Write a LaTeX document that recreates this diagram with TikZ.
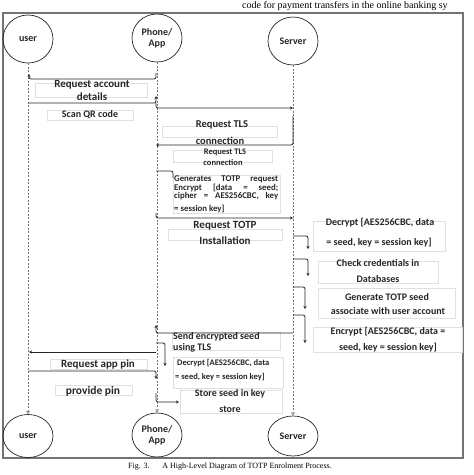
\documentclass[tikz,border=0pt]{standalone}
\usepackage{fontspec}
\setmainfont{Carlito}
\newfontfamily\seriffont{Liberation Serif}
\usetikzlibrary{arrows.meta,shapes.geometric}
\begin{document}
\begin{tikzpicture}[x=1pt,y=-1pt,
  actor/.style={draw=black!85,line width=0.7pt,ellipse,minimum width=50pt,minimum height=48pt,inner sep=0pt,align=center,font=\bfseries\fontsize{10}{11}\selectfont,text=black!85},
  life/.style={draw=black!55,line width=0.5pt,dash pattern=on 2pt off 1.5pt,-{Triangle[open,length=3pt,width=3.5pt]}},
  msg/.style={draw=black!85,line width=0.8pt,rounded corners=2pt,-{Stealth[length=3pt,width=3pt]}},
  plain/.style={draw=black!85,line width=0.8pt,rounded corners=2pt},
  lbox/.style={draw=black!12,line width=0.8pt,fill=white},
  big/.style={font=\bfseries\fontsize{10}{11}\selectfont,text=black!85,inner sep=0pt},
  large/.style={font=\bfseries\fontsize{11}{12}\selectfont,text=black!85,inner sep=0pt},
  tls/.style={font=\bfseries\fontsize{10.5}{12}\selectfont,text=black!85,inner sep=0pt},
  small/.style={font=\bfseries\fontsize{8.5}{10}\selectfont,text=black!85,inner sep=0pt},
  gen/.style={font=\bfseries\fontsize{8.8}{10}\selectfont,text=black!85,inner sep=0pt,anchor=west},
  mid/.style={font=\bfseries\fontsize{8.5}{9}\selectfont,text=black!85,inner sep=0pt}
]
\useasboundingbox (0,0) rectangle (474,475);
% header text at the page edge
\node[anchor=base west,inner sep=0pt,font=\seriffont\fontsize{10}{12}\selectfont] (hdr) at (242,8.5) {code for payment transfers in the online banking sy};
% frame
\draw[draw=black!55,line width=1.6pt] (3,13) rectangle (463,458);
% caption
\node[inner sep=0pt,font=\seriffont\fontsize{8}{10}\selectfont] (cap) at (230,467) {Fig. 3.\hspace{1.6em}A High-Level Diagram of TOTP Enrolment Process.};

% actors
\node[actor] (userT) at (28,39) {user};
\node[actor] (phoneT) at (157,38) {Phone/\\App};
\node[actor] (serverT) at (293,41) {Server};
\node[actor,minimum height=43pt] (userB) at (28,436) {user};
\node[actor,minimum height=44pt] (phoneB) at (157,435) {Phone/\\App};
\node[actor,minimum height=40pt] (serverB) at (293,436) {Server};
\draw[life] (userT.south) -- (userB.north);
\draw[life] (phoneT.south) -- (phoneB.north);
\draw[life] (serverT.south) -- (serverB.north);

% label boxes
\draw[lbox] (35,83) rectangle (147,97);
\draw[lbox] (47,110) rectangle (133,120);
\draw[lbox] (162,126) rectangle (277,137);
\draw[lbox] (173,150) rectangle (272,162);
\draw[lbox] (173,175) rectangle (280,213);
\draw[lbox] (168,229) rectangle (282,240);
\draw[lbox] (313,221) rectangle (445,251);
\draw[lbox] (318,261) rectangle (438,283);
\draw[lbox] (318,288) rectangle (455,318);
\draw[lbox] (313,327) rectangle (462,352);
\draw[lbox] (172,332) rectangle (280,350);
\draw[lbox] (173,357) rectangle (283,388);
\draw[lbox] (50,359) rectangle (147,369);
\draw[lbox] (55,385) rectangle (132,395);
\draw[lbox] (180,390) rectangle (282,413);

% lifeline coordinates
\coordinate (u1) at (29,74); \coordinate (u1b) at (29,79); \coordinate (p1) at (156,73);
\coordinate (u2) at (29,103); \coordinate (p2) at (156,103); \coordinate (p2t) at (156,96);
\coordinate (s2) at (293,108);
\coordinate (s3) at (293,116); \coordinate (s3b) at (293,145); \coordinate (p3) at (156,145);
\coordinate (p4) at (156,171); \coordinate (p4b) at (173,171); \coordinate (p4c) at (173,178);
\coordinate (p5) at (156,213); \coordinate (p5b) at (156,218); \coordinate (s5) at (293,218);
\coordinate (sa) at (293,236); \coordinate (sa1) at (308,236); \coordinate (sa2) at (308,249);
\coordinate (sb) at (293,259); \coordinate (sb1) at (308,259); \coordinate (sb2) at (308,276);
\coordinate (sc) at (293,287); \coordinate (sc1) at (305,287); \coordinate (sc2) at (305,309);
\coordinate (sd) at (293,315); \coordinate (sd1) at (305,315); \coordinate (sd2) at (305,343);
\coordinate (s6) at (293,333); \coordinate (p6) at (156,333); \coordinate (p6t) at (156,325);
\coordinate (p7) at (156,343); \coordinate (p7a) at (165,343); \coordinate (p7b) at (165,366);
\coordinate (p8) at (156,352); \coordinate (u8) at (29,352);
\coordinate (u9) at (29,371); \coordinate (p9) at (156,371); \coordinate (p9b) at (156,379);
\coordinate (p10) at (156,393); \coordinate (p10b) at (156,402); \coordinate (p10c) at (179,402);

% connectors
\draw[msg] (p1) |- (u1b) -- (u1);
\draw[msg] (u2) -- (p2) -- (p2t);
\draw[msg] (p2) |- (s2);
\draw[msg] (s3) -- (s3b) -- (p3);
\draw[plain] (p4) -- (p4b) -- (p4c);
\draw[msg] (p5) -- (p5b) -- (s5);
\draw[msg] (sa) -- (sa1) -- (sa2);
\draw[msg] (sb) -- (sb1) -- (sb2);
\draw[msg] (sc) -- (sc1) -- (sc2);
\draw[msg] (sd) -- (sd1) -- (sd2);
\draw[msg] (s6) -- (p6) -- (p6t);
\draw[msg] (p7) -- (p7a) -- (p7b);
\draw[msg] (p8) -- (u8);
\draw[msg] (u9) -- (p9) -- (p9b);
\draw[msg] (p10) -- (p10b) -- (p10c);

% texts
\node[large] (t1a) at (92,85) {Request account};
\node[large] (t1b) at (92,97) {details};
\node[big] (t2) at (90,115) {Scan QR code};
\node[tls] (t3a) at (222,125) {Request TLS};
\node[tls] (t3b) at (220,140.5) {connection};
\node[small] (t4a) at (225,152) {Request TLS};
\node[small] (t4b) at (223,163) {connection};
\node[gen] (t5a) at (174,179.5) {\makebox[104pt][s]{Generates TOTP request}};
\node[gen] (t5b) at (174,187.5) {\makebox[104pt][s]{Encrypt [data = seed;}};
\node[gen] (t5c) at (174,196) {\makebox[104pt][s]{cipher = AES256CBC, key}};
\node[gen] (t5d) at (174,209) {= session key]};
\node[large] (t6a) at (225,226) {Request TOTP};
\node[large] (t6b) at (225,241) {Installation};
\node[big] (t7a) at (380,223) {Decrypt [AES256CBC, data};
\node[big] (t7b) at (379,243) {= seed, key = session key]};
\node[big] (t8a) at (378,263.5) {Check credentials in};
\node[big] (t8b) at (378,279) {Databases};
\node[big] (t9a) at (387,297) {Generate TOTP seed};
\node[big] (t9b) at (388,311) {associate with user account};
\node[big] (t10a) at (388,332) {Encrypt [AES256CBC, data =};
\node[big] (t10b) at (388,348) {seed, key = session key]};
\node[big,anchor=west] (t11a) at (173,337) {Send encrypted seed};
\node[big,anchor=west] (t11b) at (173,348) {using TLS};
\node[mid,anchor=west] (t12a) at (177,363) {Decrypt [AES256CBC, data};
\node[mid,anchor=west] (t12b) at (175,377) {= seed, key = session key]};
\node[large] (t13) at (98,364) {Request app pin};
\node[font=\bfseries\fontsize{11.5}{12}\selectfont,text=black!85,inner sep=0pt] (t14) at (93,391) {provide pin};
\node[big] (t15a) at (230,394) {Store seed in key};
\node[big] (t15b) at (230,409) {store};
\end{tikzpicture}
\end{document}
